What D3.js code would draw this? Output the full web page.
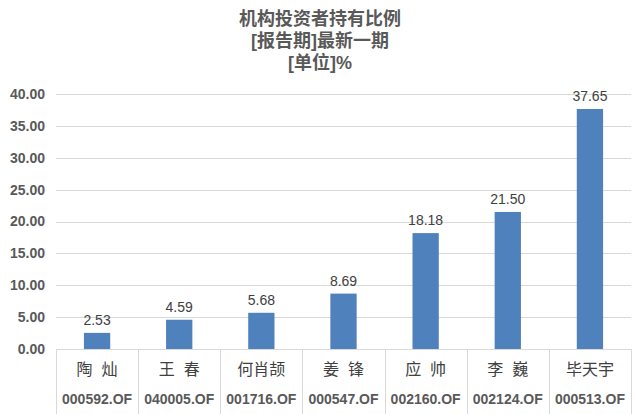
<!DOCTYPE html>
<html>
<head>
<meta charset="utf-8">
<script src="https://cdn.jsdelivr.net/npm/d3@7"></script>
<style>
  body { margin: 0; background: #fff; }
  text { font-family: "Liberation Sans", "Noto Sans CJK SC", sans-serif; white-space: pre; }
</style>
</head>
<body>
<svg id="svg_elem"></svg>
<script>
//chart data
const names = ['陶  灿', '王  春', '何肖颉', '姜  锋', '应  帅', '李  巍', '毕天宇'];
const codes = ['000592.OF', '040005.OF', '001716.OF', '000547.OF', '002160.OF', '002124.OF', '000513.OF'];
const values = [2.53, 4.59, 5.68, 8.69, 18.18, 21.50, 37.65];
const yTicks = [0, 5, 10, 15, 20, 25, 30, 35, 40];
const titleLines = ['机构投资者持有比例', '[报告期]最新一期', '[单位]%'];

//layout
const svgWidth = 638;
const svgHeight = 414;
const plotLeft = 56;
const plotRight = 631;
const plotTop = 94;
const plotBottom = 349;

const svg = d3.select('#svg_elem')
	.attr('width', svgWidth)
	.attr('height', svgHeight);

const x = d3.scaleBand()
	.domain(codes)
	.range([plotLeft, plotRight])
	.paddingInner(0.68)
	.paddingOuter(0.34);

const y = d3.scaleLinear()
	.domain([0, 40])
	.range([plotBottom, plotTop]);

//title
svg.append('g')
	.selectAll('text')
	.data(titleLines)
	.enter()
	.append('text')
		.attr('x', 320)
		.attr('y', (d, i) => 25 + i * 22)
		.attr('text-anchor', 'middle')
		.attr('font-family', '"Noto Sans CJK SC", sans-serif')
		.attr('font-size', '18px')
		.attr('font-weight', 'bold')
		.attr('fill', '#595959')
		.text(d => d);

//gridlines
svg.append('g')
	.selectAll('line')
	.data(yTicks.filter(d => d > 0))
	.enter()
	.append('line')
		.attr('x1', plotLeft)
		.attr('x2', plotRight)
		.attr('y1', d => Math.round(y(d)) + 0.5)
		.attr('y2', d => Math.round(y(d)) + 0.5)
		.attr('stroke', '#d9d9d9');

//y axis labels
svg.append('g')
	.selectAll('text')
	.data(yTicks)
	.enter()
	.append('text')
		.attr('x', 45)
		.attr('y', d => y(d))
		.attr('dy', '0.35em')
		.attr('text-anchor', 'end')
		.attr('font-size', '14px')
		.attr('font-weight', 'bold')
		.attr('fill', '#595959')
		.text(d => d3.format('.2f')(d));

//bars
svg.append('g')
	.selectAll('rect')
	.data(values)
	.enter()
	.append('rect')
		.attr('x', (d, i) => x(codes[i]))
		.attr('width', x.bandwidth())
		.attr('y', d => y(d))
		.attr('height', d => y(0) - y(d))
		.attr('fill', '#4f81bd');

//data labels
svg.append('g')
	.selectAll('text')
	.data(values)
	.enter()
	.append('text')
		.attr('x', (d, i) => x(codes[i]) + x.bandwidth() / 2)
		.attr('y', d => y(d) - 8)
		.attr('text-anchor', 'middle')
		.attr('font-size', '14px')
		.attr('fill', '#404040')
		.text(d => d.toFixed(2));

//category table under the axis
const step = x.step();
const axisG = svg.append('g');
axisG.append('line')
	.attr('x1', plotLeft)
	.attr('x2', plotRight)
	.attr('y1', plotBottom + 0.5)
	.attr('y2', plotBottom + 0.5)
	.attr('stroke', '#d9d9d9');
axisG.selectAll('.sep')
	.data(d3.range(codes.length + 1))
	.enter()
	.append('line')
		.classed('sep', true)
		.attr('x1', i => Math.round(plotLeft + i * step) + 0.5)
		.attr('x2', i => Math.round(plotLeft + i * step) + 0.5)
		.attr('y1', plotBottom)
		.attr('y2', svgHeight)
		.attr('stroke', '#d9d9d9');
axisG.selectAll('.name')
	.data(names)
	.enter()
	.append('text')
		.classed('name', true)
		.attr('x', (d, i) => x(codes[i]) + x.bandwidth() / 2)
		.attr('y', 369)
		.attr('dy', '0.35em')
		.attr('text-anchor', 'middle')
		.attr('font-family', '"Noto Sans CJK SC", sans-serif')
		.attr('font-size', '16px')
		.attr('fill', '#404040')
		.text(d => d);
axisG.selectAll('.code')
	.data(codes)
	.enter()
	.append('text')
		.classed('code', true)
		.attr('x', (d, i) => x(codes[i]) + x.bandwidth() / 2)
		.attr('y', 399)
		.attr('dy', '0.35em')
		.attr('text-anchor', 'middle')
		.attr('font-size', '14px')
		.attr('font-weight', 'bold')
		.attr('fill', '#595959')
		.text(d => d);
</script>
</body>
</html>
